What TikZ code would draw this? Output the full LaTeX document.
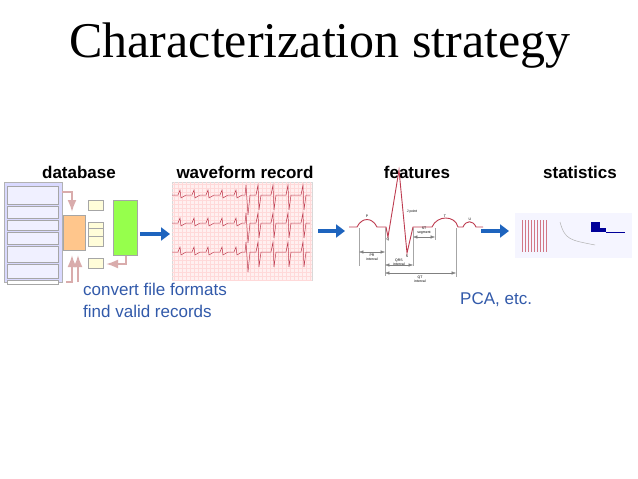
\documentclass[tikz,border=0pt]{standalone}
\usepackage{fontspec}
\setmainfont{Liberation Serif}
\newfontfamily\hsans{Liberation Sans}
\usetikzlibrary{arrows.meta}
\definecolor{bluearr}{RGB}{30,100,190}
\definecolor{txtblue}{RGB}{50,90,170}
\definecolor{ecgred}{RGB}{190,60,80}
\tikzset{
 hdr/.style={font=\hsans\bfseries\fontsize{17}{17}\selectfont, anchor=base},
 bigarrow/.style={draw=bluearr, line width=3.5pt, -{Triangle[length=9pt,width=13pt]}},
 note/.style={font=\hsans\fontsize{17}{19}\selectfont, text=txtblue, anchor=base west, inner sep=0},
 panel/.style={draw=gray!60, fill=blue!15, line width=0.4pt},
 thin/.style={draw=gray!70, line width=0.4pt},
}
\begin{document}
\begin{tikzpicture}[x=1pt,y=-1pt]
\useasboundingbox (0,0) rectangle (638,479);
\fill[white] (0,0) rectangle (638,479);
\node[font=\fontsize{50}{52}\selectfont, anchor=base] (title) at (320,57) {Characterization strategy};
\node[hdr] (h1) at (79,178) {database};
\node[hdr] (h2) at (245,178) {waveform record};
\node[hdr] (h3) at (417,178) {features};
\node[hdr] (h4) at (580,178) {statistics};
% database image
\node[panel, minimum width=58, minimum height=100, anchor=north west, inner sep=0] (db) at (4,182) {};
\foreach \y/\h in {186/18,206/12,220/10,232/12,246/16,264/14}{\draw[thin, fill=blue!6] (7,\y) rectangle (58,\y+\h);}
\draw[thin, fill=white] (7,280) rectangle (58,284);
\node[draw=gray!70, fill=orange!45, minimum width=22, minimum height=35, anchor=north west, inner sep=0] (orb) at (63,215) {};
\node[draw=gray!70, fill=green!45!lime!70, minimum width=24, minimum height=55, anchor=north west, inner sep=0] (grb) at (113,200) {};
\foreach \y in {200,222,228,236,258}{\draw[thin, fill=yellow!15] (88,\y) rectangle (103,\y+10);}
\draw[pink!70!gray, line width=2pt, -{Latex}] (62,192) -- (72,192) -- (72,212);
\draw[pink!70!gray, line width=2pt, -{Latex}] (66,282) -- (72,282) -- (72,255);
\draw[pink!70!gray, line width=2pt, -{Latex}] (78,282) -- (78,255);
\draw[pink!70!gray, line width=2pt, -{Latex}] (126,256) -- (126,264) -- (106,264);
% arrow 1
\coordinate (a1s) at (140,234);
\coordinate (a1e) at (170,234);
\draw[bigarrow] (a1s) -- (a1e);
% waveform
\node[draw=gray!30, fill=red!6, minimum width=140, minimum height=98, anchor=north west, inner sep=0] (wf) at (172,182) {};
\begin{scope}
\clip (172,182) rectangle (312,280);
\foreach \x in {174,178,...,312}{\draw[red!15, line width=0.2pt] (\x,182) -- (\x,280);}
\foreach \y in {184,188,...,280}{\draw[red!15, line width=0.2pt] (172,\y) -- (312,\y);}
\foreach \b in {195,223,252}{
  \draw[ecgred, line width=0.5pt] (172,\b)
  \foreach \x in {172,186,200,214,228}{ -- (\x+6,\b) -- (\x+8,\b-5) -- (\x+9,\b+3) -- (\x+14,\b)}
  -- (245,\b) -- (246,\b-10) -- (248,\b+20) -- (250,\b)
  \foreach \x in {250,265,280,295}{ -- (\x+6,\b) -- (\x+8,\b-10) -- (\x+9,\b+15) -- (\x+11,\b) -- (\x+15,\b)};
}
\end{scope}
% arrow 2
\coordinate (a2s) at (318,231);
\coordinate (a2e) at (345,231);
\draw[bigarrow] (a2s) -- (a2e);
% ECG features
\draw[ecgred, line width=0.9pt] (349,227) -- (357,227) .. controls (362,217) and (372,217) .. (377,227) -- (386,227) -- (388,237) -- (399,170) -- (407,253) -- (413,227) -- (432,227) .. controls (437,215) and (455,215) .. (458,227) -- (463,227) .. controls (466,220) and (473,220) .. (476,227) -- (483,227);
\foreach \x/\y in {359/266,385/276,413/266,456/277,435/240}{\draw[gray!70, line width=0.4pt] (\x,228) -- (\x,\y);}
\draw[gray, line width=0.3pt, <->, >=Latex] (359,252) -- (385,252);
\draw[gray, line width=0.3pt, <->, >=Latex] (385,265) -- (413,265);
\draw[gray, line width=0.3pt, <->, >=Latex] (385,273) -- (456,273);
\draw[gray, line width=0.3pt, <->, >=Latex] (413,237) -- (435,237);
\node[font=\hsans\fontsize{3.5}{4}\selectfont, align=center] (pr) at (372,257) {PR\\interval};
\node[font=\hsans\fontsize{3.5}{4}\selectfont, align=center] (qrs) at (399,262) {QRS\\interval};
\node[font=\hsans\fontsize{3.5}{4}\selectfont, align=center] (qt) at (420,279) {QT\\interval};
\node[font=\hsans\fontsize{3.5}{4}\selectfont, align=center] (st) at (424,231) {ST\\segment};
\node[font=\hsans\fontsize{3.5}{4}\selectfont] (jp) at (412,212) {J point};
\node[font=\hsans\fontsize{3.5}{4}\selectfont] (pl) at (367,216) {P};
\node[font=\hsans\fontsize{3.5}{4}\selectfont] (ql) at (388,240) {Q};
\node[font=\hsans\fontsize{3.5}{4}\selectfont] (sl) at (407,256) {S};
\node[font=\hsans\fontsize{3.5}{4}\selectfont] (tl) at (445,216) {T};
\node[font=\hsans\fontsize{3.5}{4}\selectfont] (ul) at (470,219) {U};
% arrow 3
\coordinate (a3s) at (481,231);
\coordinate (a3e) at (509,231);
\draw[bigarrow] (a3s) -- (a3e);
% statistics
\node[fill=blue!4, minimum width=117, minimum height=45, anchor=north west, inner sep=0] (stat) at (515,213) {};
\foreach \x in {522,525,...,546}{\draw[ecgred!70, line width=0.5pt] (\x,220) -- (\x,252);}
\draw[gray!60, line width=0.5pt] (560,222) .. controls (565,240) and (570,240) .. (595,245);
\fill[blue!60!black] (591,222) rectangle (600,232);
\fill[blue!60!black] (600,228) rectangle (606,232);
\draw[blue!60!black, line width=0.5pt] (606,232) -- (625,232);
% notes
\node[note] (n1) at (83,295) {convert file formats};
\node[note] (n2) at (83,317) {find valid records};
\node[note] (n3) at (460,304) {PCA, etc.};
\end{tikzpicture}
\end{document}
